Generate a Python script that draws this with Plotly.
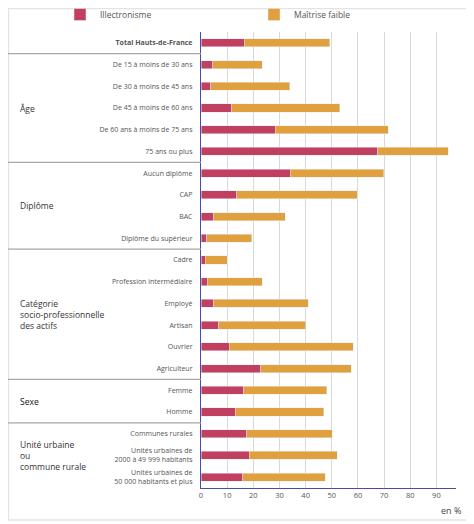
import plotly.graph_objects as go

# -----------------------------
# Data
# -----------------------------
categories = [
    "Total Hauts-de-France",
    "De 15 à moins de 30 ans", "De 30 à moins de 45 ans", "De 45 à moins de 60 ans",
    "De 60 ans à moins de 75 ans", "75 ans ou plus",
    "Aucun diplôme", "CAP", "BAC", "Diplôme du supérieur",
    "Cadre", "Profession intermédiaire", "Employé", "Artisan", "Ouvrier", "Agriculteur",
    "Femme", "Homme",
    "Communes rurales", "Unités urbaines de 2000 à 49 999 habitants",
    "Unités urbaines de 50 000 habitants et plus",
]
tick_labels = [
    "<b>Total Hauts-de-France</b>",
    "De 15 à moins de 30 ans", "De 30 à moins de 45 ans", "De 45 à moins de 60 ans",
    "De 60 ans à moins de 75 ans", "75 ans ou plus",
    "Aucun diplôme", "CAP", "BAC", "Diplôme du supérieur",
    "Cadre", "Profession intermédiaire", "Employé", "Artisan", "Ouvrier", "Agriculteur",
    "Femme", "Homme",
    "Communes rurales", "Unités urbaines de<br>2000 à 49 999 habitants",
    "Unités urbaines de<br>50 000 habitants et plus",
]
illectronisme = [16.5, 4.5, 3.7, 11.7, 28.4, 67.5, 34.2, 13.6, 4.8, 2.2,
                 1.6, 2.4, 4.8, 6.7, 10.8, 22.9, 16.4, 13.0, 17.4, 18.4, 15.9]
maitrise_faible = [32.8, 19.0, 30.2, 41.3, 43.1, 27.1, 35.7, 46.1, 27.5, 17.2,
                   8.5, 21.1, 36.2, 33.3, 47.4, 34.5, 31.7, 34.0, 32.7, 33.7, 31.6]

# groups: label, first row, last row
groups = [
    ("Âge", 1, 5),
    ("Diplôme", 6, 9),
    ("Catégorie<br>socio-professionnelle<br>des actifs", 10, 15),
    ("Sexe", 16, 17),
    ("Unité urbaine<br>ou<br>commune rurale", 18, 20),
]

RED = "#C2405F"
ORANGE = "#E1A03E"
FONT = "Open Sans"

# the page body adds an 8px margin, so the figure is 8px smaller than the window
W, H = 466, 516
L, R, T, B = 193, 18, 24, 36
PW, PH = W - L - R, H - T - B


def px_x(p):
    # figure pixel -> paper x
    return (p - L) / PW


def px_y(p):
    # figure pixel -> paper y
    return (H - B - p) / PH


fig = go.Figure()
fig.add_trace(go.Bar(y=categories, x=illectronisme, name="Illectronisme",
                     orientation="h", marker_color=RED))
fig.add_trace(go.Bar(y=categories, x=maitrise_faible, name="Maîtrise faible",
                     orientation="h", marker_color=ORANGE))

# group labels and separators on the left
for label, first, last in groups:
    color = "#111" if label == "Sexe" else "#333"
    fig.add_annotation(x=px_x(10), xref="paper", y=(first + last) / 2, yref="y",
                       text=label, showarrow=False, xanchor="left", align="left",
                       font=dict(size=8.5, color=color, family=FONT))
    fig.add_shape(type="line", xref="paper", yref="y", x0=px_x(0), x1=0,
                  y0=first - 0.5, y1=first - 0.5, line=dict(color="#a8a8a8", width=1.2))

# outer frame
fig.add_shape(type="rect", xref="paper", yref="paper",
              x0=px_x(0.5), x1=px_x(462), y0=px_y(512), y1=px_y(0.5),
              line=dict(color="#e4e4e4", width=1.5), layer="below")

fig.add_annotation(x=px_x(455), xref="paper", y=px_y(502), yref="paper", text="en %",
                   showarrow=False, xanchor="right", yanchor="middle",
                   font=dict(size=9, color="#444", family=FONT))

fig.update_layout(
    width=W, height=H,
    barmode="stack", bargap=0.63,
    margin=dict(l=L, r=R, t=T, b=B, autoexpand=False),
    plot_bgcolor="white", paper_bgcolor="white",
    font=dict(family=FONT, size=8, color="#555"),
    legend=dict(orientation="h", x=px_x(52), xanchor="left",
                y=px_y(-8), yanchor="top",
                bgcolor="rgba(0,0,0,0)",
                font=dict(size=8.5, color="#555", family=FONT),
                itemwidth=30, entrywidth=149, traceorder="normal"),
    xaxis=dict(range=[0, 97.5], tickvals=list(range(0, 100, 10)),
               showgrid=True, gridcolor="#d9d9d9", gridwidth=1,
               showline=True, linecolor="#4a4aa8", linewidth=1.2,
               zeroline=False, ticks="", tickfont=dict(size=7.5, color="#555"),
               fixedrange=True),
    yaxis=dict(categoryorder="array", categoryarray=categories,
               tickvals=categories, ticktext=tick_labels,
               autorange="reversed", showline=True, linecolor="#4a4aa8",
               linewidth=1.2, ticks="", ticklabelstandoff=6,
               tickfont=dict(size=7, color="#555")),
    showlegend=True,
)

fig.write_html("out.html")
